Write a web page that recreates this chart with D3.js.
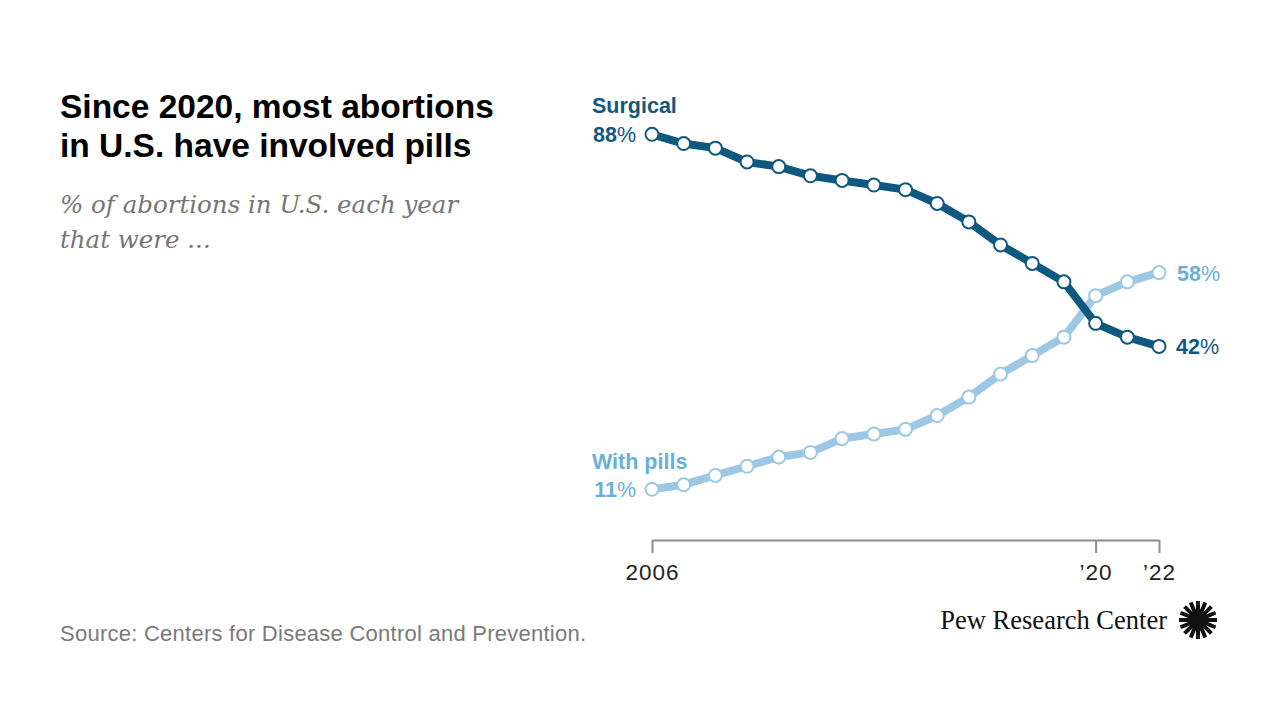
<!DOCTYPE html>
<html>
<head>
<meta charset="utf-8">
<script src="https://cdn.jsdelivr.net/npm/d3@7"></script>
<style>
  body { margin: 0; background: #fff; }
</style>
</head>
<body>
<div id="chart"></div>
<script>
const width = 1280
const height = 720

const years = d3.range(2006, 2023)
const surgical = [88, 86, 85, 82, 81, 79, 78, 77, 76, 73, 69, 64, 60, 56, 47, 44, 42]
const pills = [11, 12, 14, 16, 18, 19, 22, 23, 24, 27, 31, 36, 40, 44, 53, 56, 58]
const tickYears = [2006, 2020, 2022]
const tickLabels = ["2006", "\u201920", "\u201922"]

const darkBlue = "#0f5880"
const lightLine = "#9dc8e5"
const lightText = "#6aafd8"
const sans = "'Liberation Sans', Arial, sans-serif"

const svg = d3.select("#chart")
  .append("svg")
  .attr("width", width)
  .attr("height", height)
  .style("font-family", sans)

const x = d3.scaleLinear()
  .domain([2006, 2022])
  .range([652, 1159])

const y = d3.scaleLinear()
  .domain([0, 100])
  .range([540, 79])

// title + subtitle
svg.append("text")
  .attr("x", 60).attr("y", 118)
  .attr("font-size", 33.5).attr("font-weight", 700).attr("fill", "#000")
  .text("Since 2020, most abortions")
svg.append("text")
  .attr("x", 60).attr("y", 157)
  .attr("font-size", 33.5).attr("font-weight", 700).attr("fill", "#000")
  .text("in U.S. have involved pills")

svg.append("text")
  .attr("x", 60).attr("y", 213)
  .attr("font-family", "'DejaVu Serif', serif").attr("font-style", "italic")
  .attr("font-size", 24.5).attr("fill", "#767676")
  .text("% of abortions in U.S. each year")
svg.append("text")
  .attr("x", 60).attr("y", 248)
  .attr("font-family", "'DejaVu Serif', serif").attr("font-style", "italic")
  .attr("font-size", 24.5).attr("fill", "#767676")
  .text("that were ...")

// x axis
const xAxis = d3.axisBottom(x)
  .tickValues(tickYears)
  .tickSize(13)
  .tickSizeOuter(0)
  .tickFormat((d, i) => tickLabels[i])

const axisG = svg.append("g")
  .attr("transform", `translate(0,${y(0)})`)
  .call(xAxis)
axisG.select(".domain").attr("stroke", "#8c8c8c").attr("stroke-width", 2)
axisG.selectAll(".tick line").attr("stroke", "#8c8c8c").attr("stroke-width", 2)
axisG.selectAll(".tick text")
  .attr("font-family", sans)
  .attr("font-size", 22.5).attr("fill", "#222").attr("dy", "1.05em")
  .attr("letter-spacing", 1)

// lines
const line = d3.line()
  .x((d, i) => x(years[i]))
  .y(d => y(d))

const series = [
  { name: "With pills", values: pills, stroke: lightLine, text: lightText },
  { name: "Surgical", values: surgical, stroke: darkBlue, text: darkBlue }
]

series.forEach(s => {
  svg.append("path")
    .datum(s.values)
    .attr("d", line)
    .attr("fill", "none")
    .attr("stroke", s.stroke)
    .attr("stroke-width", 8)
    .attr("stroke-linejoin", "round")

  svg.selectAll(null)
    .data(s.values)
    .enter()
    .append("circle")
    .attr("cx", (d, i) => x(years[i]))
    .attr("cy", d => y(d))
    .attr("r", 6.5)
    .attr("fill", "#fff")
    .attr("stroke", s.stroke)
    .attr("stroke-width", 2)
})

// labels
svg.append("text")
  .attr("x", 592).attr("y", 113)
  .attr("font-size", 21.5).attr("font-weight", 700).attr("fill", darkBlue)
  .text("Surgical")
svg.append("text")
  .attr("x", 592).attr("y", 469)
  .attr("font-size", 21.5).attr("font-weight", 700).attr("fill", lightText)
  .text("With pills")

function valueLabel(val, xpos, anchor, color) {
  const t = svg.append("text")
    .attr("x", xpos).attr("y", y(val) + 8)
    .attr("text-anchor", anchor)
    .attr("font-size", 21.5).attr("fill", color)
  t.append("tspan").attr("font-weight", 700).text(val)
  t.append("tspan").text("%")
}
valueLabel(surgical[0], x(2006) - 16, "end", darkBlue)
valueLabel(pills[0], x(2006) - 16, "end", lightText)
valueLabel(pills[pills.length - 1], x(2022) + 18, "start", lightText)
valueLabel(surgical[surgical.length - 1], x(2022) + 17, "start", darkBlue)

// source
svg.append("text")
  .attr("x", 60).attr("y", 641)
  .attr("font-size", 22).attr("fill", "#7a7a7a")
  .attr("letter-spacing", 0.25)
  .text("Source: Centers for Disease Control and Prevention.")

// logo
svg.append("text")
  .attr("x", 1167).attr("y", 629)
  .attr("text-anchor", "end")
  .attr("font-family", "'Liberation Serif', serif")
  .attr("font-size", 26.5).attr("fill", "#111")
  .text("Pew Research Center")

const logo = svg.append("g").attr("transform", "translate(1198,620)")
d3.range(16).forEach(i => {
  const a = i * Math.PI / 8
  logo.append("line")
    .attr("x1", Math.cos(a) * 4).attr("y1", Math.sin(a) * 4)
    .attr("x2", Math.cos(a) * 19).attr("y2", Math.sin(a) * 19)
    .attr("stroke", "#111")
    .attr("stroke-width", 4)
})
logo.append("circle").attr("r", 5).attr("fill", "#111")
</script>
</body>
</html>
